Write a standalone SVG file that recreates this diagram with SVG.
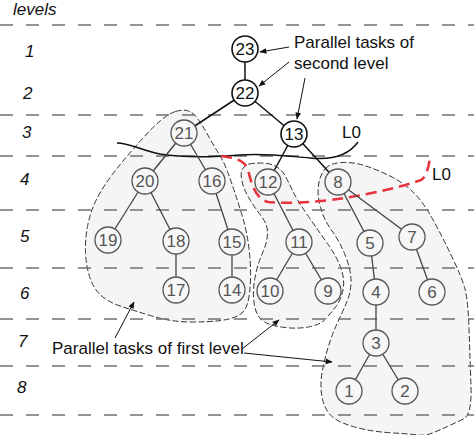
<svg xmlns="http://www.w3.org/2000/svg" width="474" height="435" viewBox="0 0 474 435">
<style>
.lvl{stroke:#707070;stroke-width:1.5;stroke-dasharray:13 13;fill:none}
.reg{fill:#f5f5f5;stroke:#333;stroke-width:1;stroke-dasharray:6 2.5}
.e{stroke:#444;stroke-width:1.3;fill:none}
.ed{stroke:#111;stroke-width:1.5;fill:none}
.n circle{fill:#f7f7f7;stroke:#555;stroke-width:1.3}
.n text{fill:#555;font-family:"Liberation Sans",Arial,sans-serif;font-size:17px;text-anchor:middle}
.d circle{fill:#fff;stroke:#111;stroke-width:1.6}
.d text{fill:#111}
.lab{font-family:"Liberation Sans",Arial,sans-serif;font-size:17px;fill:#111}
.lv{font-family:"Liberation Sans",Arial,sans-serif;font-size:17px;font-style:italic;fill:#111}
.arr{stroke:#111;stroke-width:1;fill:none;marker-end:url(#ah)}
</style>
<defs>
<marker id="ah" viewBox="0 0 10 10" refX="9" refY="5" markerWidth="9" markerHeight="7" markerUnits="userSpaceOnUse" orient="auto">
<path d="M0,1 L10,5 L0,9 Z" fill="#111"/>
</marker>
</defs>
<rect width="474" height="435" fill="#fff"/>
<g id="regions">
<path class="reg" d="M175.5,111.5 Q183,109 188.5,111 Q194,113 199,120.5 Q204,128 209,137 Q214,146 219,154 Q224,162 227.5,171.5 Q231,181 235,193 Q239,205 243,218.5 Q247,232 249,248.5 Q251,265 250.5,280 Q250,295 247.5,303.5 Q245,312 238.5,315.5 Q232,319 221,320.5 Q210,322 191,322 Q172,322 153.5,316.5 Q135,311 121.5,306.5 Q108,302 100.5,295 Q93,288 89.5,276.5 Q86,265 85.5,252.5 Q85,240 87.5,226.5 Q90,213 95.5,201.5 Q101,190 109,179 Q117,168 125.5,158 Q134,148 143,138 Q152,128 160,121 Q168,114 175.5,111.5 Z"/>
<path class="reg" d="M249,164 Q253,163 261.5,163 Q270,163 276,166.5 Q282,170 285,175.5 Q288,181 292.5,190.5 Q297,200 308.5,216.5 Q320,233 328.5,245 Q337,257 341,268.5 Q345,280 343,290 Q341,300 336,306.5 Q331,313 325.5,319 Q320,325 308.5,327 Q297,329 285,327.5 Q273,326 266.5,323 Q260,320 257,313.5 Q254,307 253.5,297 Q253,287 255.5,275 Q258,263 262.5,253 Q267,243 267.5,234 Q268,225 261.5,216.5 Q255,208 249.5,199 Q244,190 242,181.5 Q240,173 242.5,169 Q245,165 249,164 Z"/>
<path class="reg" d="M325,169 Q330,163 342,162.5 Q354,162 366,166 Q378,170 391,176.5 Q404,183 414,193 Q424,203 434,221.5 Q444,240 453,259 Q462,278 465,289 Q468,300 469,328.5 Q470,357 471,386 Q472,415 463.5,419 Q455,423 447.5,426.5 Q440,430 432.5,433 Q425,436 417.5,435 Q410,434 393.5,433 Q377,432 365,429.5 Q353,427 343,423 Q333,419 328,412 Q323,405 321.5,394 Q320,383 322.5,370 Q325,357 329,344.5 Q333,332 338,321.5 Q343,311 347,301.5 Q351,292 351,281 Q351,270 345.5,256 Q340,242 332,231 Q324,220 320.5,207.5 Q317,195 318.5,185 Q320,175 325,169 Z"/>
</g>
<g id="levels">
<line class="lvl" x1="0" y1="25" x2="474" y2="25"/>
<line class="lvl" x1="0" y1="115" x2="474" y2="115"/>
<line class="lvl" x1="0" y1="156" x2="474" y2="156"/>
<line class="lvl" x1="0" y1="210" x2="474" y2="210"/>
<line class="lvl" x1="0" y1="268" x2="474" y2="268"/>
<line class="lvl" x1="0" y1="319" x2="474" y2="319"/>
<line class="lvl" x1="0" y1="366" x2="474" y2="366"/>
<line class="lvl" x1="0" y1="415" x2="474" y2="415"/>
<text class="lv" x="13" y="15">levels</text>
<text class="lv" x="25" y="57">1</text>
<text class="lv" x="23" y="99">2</text>
<text class="lv" x="22" y="138">3</text>
<text class="lv" x="20" y="185">4</text>
<text class="lv" x="20" y="242">5</text>
<text class="lv" x="20" y="299">6</text>
<text class="lv" x="18" y="347">7</text>
<text class="lv" x="17" y="393">8</text>
</g>
<g id="cuts">
<path d="M117,143 C130,143 140,150 160,154 C185,158 215,157 240,155 C265,153 285,156 310,158 C330,160 348,156 358,142" fill="none" stroke="#111" stroke-width="1.4"/>
<path d="M221,156 C235,158 245,160 248,170 C252,185 255,198 268,202 C290,204 320,202 345,198 C375,193 405,186 421,180 C426,177 428,170 430,158" fill="none" stroke="#e8323c" stroke-width="2.5" stroke-dasharray="11 6"/>
<text class="lab" x="342" y="138">L0</text>
<text class="lab" x="432" y="180">L0</text>
</g>
<g id="connectors">
<line class="ed" x1="245" y1="49" x2="245" y2="93"/>
<line class="ed" x1="245" y1="93" x2="184" y2="133"/>
<line class="ed" x1="245" y1="93" x2="294" y2="134"/>
<line class="ed" x1="294" y1="134" x2="268" y2="182"/>
<line class="ed" x1="294" y1="134" x2="338" y2="182"/>
<line class="e" x1="184" y1="133" x2="145" y2="181"/>
<line class="e" x1="184" y1="133" x2="212" y2="181"/>
<line class="e" x1="145" y1="181" x2="108" y2="240"/>
<line class="e" x1="145" y1="181" x2="176" y2="241"/>
<line class="e" x1="176" y1="241" x2="176" y2="290"/>
<line class="e" x1="212" y1="181" x2="232" y2="242"/>
<line class="e" x1="232" y1="242" x2="232" y2="290"/>
<line class="e" x1="268" y1="182" x2="299" y2="242"/>
<line class="e" x1="299" y1="242" x2="270" y2="291"/>
<line class="e" x1="299" y1="242" x2="328" y2="291"/>
<line class="e" x1="338" y1="182" x2="370" y2="243"/>
<line class="e" x1="338" y1="182" x2="412" y2="237"/>
<line class="e" x1="370" y1="243" x2="376" y2="292"/>
<line class="e" x1="376" y1="292" x2="376" y2="343"/>
<line class="e" x1="376" y1="343" x2="349" y2="391"/>
<line class="e" x1="376" y1="343" x2="405" y2="391"/>
<line class="e" x1="412" y1="237" x2="432" y2="292"/>
<line class="arr" x1="289" y1="47" x2="260" y2="52"/>
<line class="arr" x1="289" y1="62" x2="259" y2="86"/>
<line class="arr" x1="305" y1="78" x2="297" y2="119"/>
<line class="arr" x1="115" y1="338" x2="134" y2="302"/>
<line class="arr" x1="242" y1="349" x2="279" y2="320"/>
<line class="arr" x1="244" y1="353" x2="332" y2="362"/>
</g>
<g id="n23" class="n d"><circle cx="245" cy="49" r="13"/><text x="245" y="55">23</text></g>
<g id="n22" class="n d"><circle cx="245" cy="93" r="13"/><text x="245" y="99">22</text></g>
<g id="n13" class="n d"><circle cx="294" cy="134" r="13"/><text x="294" y="140">13</text></g>
<g id="n21" class="n"><circle cx="184" cy="133" r="13"/><text x="184" y="139">21</text></g>
<g id="n20" class="n"><circle cx="145" cy="181" r="13"/><text x="145" y="187">20</text></g>
<g id="n16" class="n"><circle cx="212" cy="181" r="13"/><text x="212" y="187">16</text></g>
<g id="n19" class="n"><circle cx="108" cy="240" r="13"/><text x="108" y="246">19</text></g>
<g id="n18" class="n"><circle cx="176" cy="241" r="13"/><text x="176" y="247">18</text></g>
<g id="n15" class="n"><circle cx="232" cy="242" r="13"/><text x="232" y="248">15</text></g>
<g id="n17" class="n"><circle cx="176" cy="290" r="13"/><text x="176" y="296">17</text></g>
<g id="n14" class="n"><circle cx="232" cy="290" r="13"/><text x="232" y="296">14</text></g>
<g id="n12" class="n"><circle cx="268" cy="182" r="13"/><text x="268" y="188">12</text></g>
<g id="n8" class="n"><circle cx="338" cy="182" r="13"/><text x="338" y="188">8</text></g>
<g id="n11" class="n"><circle cx="299" cy="242" r="13"/><text x="299" y="248">11</text></g>
<g id="n5" class="n"><circle cx="370" cy="243" r="13"/><text x="370" y="249">5</text></g>
<g id="n7" class="n"><circle cx="412" cy="237" r="13"/><text x="412" y="243">7</text></g>
<g id="n10" class="n"><circle cx="270" cy="291" r="13"/><text x="270" y="297">10</text></g>
<g id="n9" class="n"><circle cx="328" cy="291" r="13"/><text x="328" y="297">9</text></g>
<g id="n4" class="n"><circle cx="376" cy="292" r="13"/><text x="376" y="298">4</text></g>
<g id="n6" class="n"><circle cx="432" cy="292" r="13"/><text x="432" y="298">6</text></g>
<g id="n3" class="n"><circle cx="376" cy="343" r="13"/><text x="376" y="349">3</text></g>
<g id="n1" class="n"><circle cx="349" cy="391" r="13"/><text x="349" y="397">1</text></g>
<g id="n2" class="n"><circle cx="405" cy="391" r="13"/><text x="405" y="397">2</text></g>
<g id="labels">
<text class="lab" x="294" y="48">Parallel tasks of</text>
<text class="lab" x="294" y="69">second level</text>
<text class="lab" x="52" y="354">Parallel tasks of first level</text>
</g>
</svg>
